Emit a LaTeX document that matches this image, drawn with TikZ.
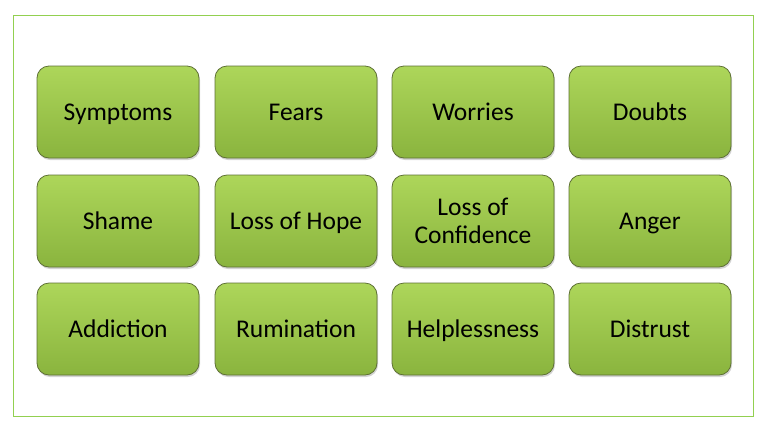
\documentclass[tikz,border=0pt]{standalone}
\usepackage{fontspec}
\setmainfont{Carlito}
\usetikzlibrary{shadows}
\definecolor{frameg}{HTML}{92D050}
\definecolor{topg}{HTML}{ADD65A}
\definecolor{botg}{HTML}{8AB43E}
\definecolor{edgeg}{HTML}{5E7035}
\begin{document}
\begin{tikzpicture}[x=1pt,y=-1pt,
  cardbase/.style={draw=edgeg, line width=0.8pt, rounded corners=12pt,
    top color=topg, bottom color=botg, minimum width=162pt, minimum height=92pt,
    font=\fontsize{25.5}{27.5}\selectfont, align=center, text=black,
    drop shadow={shadow xshift=1pt, shadow yshift=-2pt, opacity=0.35}},
  card/.style={cardbase, text height=19pt, text depth=3pt},
  frame/.style={draw=frameg, line width=1.3pt}]
\useasboundingbox (0,0) rectangle (768,432);
\node[frame, minimum width=740pt, minimum height=401pt, anchor=north west, inner sep=0pt] (fr) at (13,15) {};
\node[card] (a1) at (118,112) {Symptoms};
\node[card] (a2) at (296,112) {Fears};
\node[card] (a3) at (473,112) {Worries};
\node[card] (a4) at (650,112) {Doubts};
\node[card] (b1) at (118,221) {Shame};
\node[card] (b2) at (296,221) {Loss of Hope};
\node[cardbase] (b3) at (473,221) {Loss of\\Confidence};
\node[card] (b4) at (650,221) {Anger};
\node[card] (c1) at (118,329) {Addiction};
\node[card] (c2) at (296,329) {Rumination};
\node[card] (c3) at (473,329) {Helplessness};
\node[card] (c4) at (650,329) {Distrust};
\end{tikzpicture}
\end{document}
